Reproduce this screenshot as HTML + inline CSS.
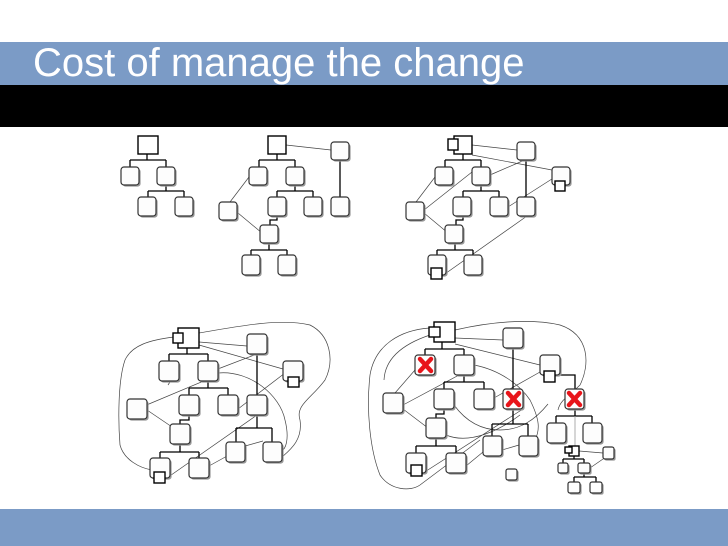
<!DOCTYPE html>
<html><head><meta charset="utf-8"><style>
html,body{margin:0;padding:0;background:#fff;}
body{width:728px;height:546px;position:relative;overflow:hidden;font-family:"Liberation Sans",sans-serif;}
.t{position:absolute;left:0;top:42px;width:728px;height:43px;background:#7b9bc6;}
.t span{position:absolute;left:33px;top:0px;color:#fff;font-size:40px;line-height:43px;white-space:nowrap;}
.k{position:absolute;left:0;top:85px;width:728px;height:42px;background:#000;}
.b{position:absolute;left:0;top:509px;width:728px;height:37px;background:#7b9bc6;}
svg{position:absolute;left:0;top:0;}
.n{fill:#fdfdfd;stroke:#333;stroke-width:1.2;}
.s{fill:#999;transform:translate(0.6px,0.6px);}
.r{fill:#fff;stroke:#000;stroke-width:1.4;}
.l{stroke:#000;stroke-width:1.3;fill:none;}
.d{stroke:#444;stroke-width:0.7;fill:none;}
.x{stroke:#e8141a;stroke-width:4.5;stroke-linecap:round;}
</style></head><body>
<div class="t"><span>Cost of manage the change</span></div>
<div class="k"></div>
<div class="b"></div>
<svg width="728" height="546" viewBox="0 0 728 546">
<path class="l" d="M147 154V160M130 160H166M130 160V167M166 160V167M166 184V191M148 191H184M148 191V197M184 191V197"/>
<rect class="r" x="138" y="136" width="20" height="18"/>
<rect class="s" x="122" y="168" width="18" height="18" rx="3"/><rect class="n" x="121" y="167" width="18" height="18" rx="3"/>
<rect class="s" x="158" y="168" width="18" height="18" rx="3"/><rect class="n" x="157" y="167" width="18" height="18" rx="3"/>
<rect class="s" x="139" y="198" width="18" height="19" rx="3"/><rect class="n" x="138" y="197" width="18" height="19" rx="3"/>
<rect class="s" x="176" y="198" width="18" height="19" rx="3"/><rect class="n" x="175" y="197" width="18" height="19" rx="3"/>

<path class="d" d="M286 145L331 150M249 177L230 202M238 213L262 233"/>
<path class="l" d="M277 154V160M259 160H295M259 160V167M295 160V167M295 184V191M277 191H313M277 191V197M313 191V197M340 160V197M277 216V220H270V225M269 243V250H251M251 250H287M251 250V256M287 250V256"/>
<rect class="r" x="268" y="136" width="18" height="18"/>
<rect class="s" x="332" y="143" width="18" height="18" rx="3"/><rect class="n" x="331" y="142" width="18" height="18" rx="3"/>
<rect class="s" x="250" y="168" width="18" height="18" rx="3"/><rect class="n" x="249" y="167" width="18" height="18" rx="3"/>
<rect class="s" x="287" y="168" width="18" height="18" rx="3"/><rect class="n" x="286" y="167" width="18" height="18" rx="3"/>
<rect class="s" x="269" y="198" width="18" height="19" rx="3"/><rect class="n" x="268" y="197" width="18" height="19" rx="3"/>
<rect class="s" x="305" y="198" width="18" height="19" rx="3"/><rect class="n" x="304" y="197" width="18" height="19" rx="3"/>
<rect class="s" x="332" y="198" width="18" height="19" rx="3"/><rect class="n" x="331" y="197" width="18" height="19" rx="3"/>
<rect class="s" x="220" y="203" width="18" height="18" rx="3"/><rect class="n" x="219" y="202" width="18" height="18" rx="3"/>
<rect class="s" x="261" y="226" width="18" height="18" rx="3"/><rect class="n" x="260" y="225" width="18" height="18" rx="3"/>
<rect class="s" x="243" y="256" width="18" height="20" rx="3"/><rect class="n" x="242" y="255" width="18" height="20" rx="3"/>
<rect class="s" x="279" y="256" width="18" height="20" rx="3"/><rect class="n" x="278" y="255" width="18" height="20" rx="3"/>

<path class="d" d="M472 145L517 150M472 155L552 170M490 175L527 159M424 210L472 172M435 177L416 202M424 213L448 233M508 207L555 177M442 276L527 216"/>
<path class="l" d="M463 154V160M445 160H481M445 160V167M481 160V167M481 184V191M463 191H499M463 191V197M499 191V197M526 160V197M463 216V220H456V225M455 243V250H437M437 250H473M437 250V256M473 250V256"/>
<rect class="r" x="454" y="136" width="18" height="18"/>
<rect class="r" x="448" y="139" width="10" height="11"/>
<rect class="s" x="518" y="143" width="18" height="18" rx="3"/><rect class="n" x="517" y="142" width="18" height="18" rx="3"/>
<rect class="s" x="436" y="168" width="18" height="18" rx="3"/><rect class="n" x="435" y="167" width="18" height="18" rx="3"/>
<rect class="s" x="473" y="168" width="18" height="18" rx="3"/><rect class="n" x="472" y="167" width="18" height="18" rx="3"/>
<rect class="s" x="553" y="168" width="18" height="18" rx="3"/><rect class="n" x="552" y="167" width="18" height="18" rx="3"/>
<rect class="r" x="555" y="181" width="10" height="10"/>
<rect class="s" x="407" y="203" width="18" height="18" rx="3"/><rect class="n" x="406" y="202" width="18" height="18" rx="3"/>
<rect class="s" x="454" y="198" width="18" height="19" rx="3"/><rect class="n" x="453" y="197" width="18" height="19" rx="3"/>
<rect class="s" x="491" y="198" width="18" height="19" rx="3"/><rect class="n" x="490" y="197" width="18" height="19" rx="3"/>
<rect class="s" x="518" y="198" width="18" height="19" rx="3"/><rect class="n" x="517" y="197" width="18" height="19" rx="3"/>
<rect class="s" x="446" y="226" width="18" height="18" rx="3"/><rect class="n" x="445" y="225" width="18" height="18" rx="3"/>
<rect class="s" x="429" y="256" width="18" height="20" rx="3"/><rect class="n" x="428" y="255" width="18" height="20" rx="3"/>
<rect class="r" x="431" y="268" width="11" height="11"/>
<rect class="s" x="465" y="256" width="18" height="20" rx="3"/><rect class="n" x="464" y="255" width="18" height="20" rx="3"/>

<path class="d" d="M174 337C150 340 132 345 125 360C118 380 118 420 120 445C124 460 140 468 152 470"/>
<path class="d" d="M199 333C240 326 280 318 310 325C330 335 335 360 325 380C312 398 295 405 300 420C303 440 290 450 282 457"/>
<path class="d" d="M199 342L247 346M199 345L283 369M218 373C250 370 280 395 285 420C290 440 285 450 282 450M179 368L168 385M137 409L218 375M147 410L178 431M238 409L285 373M257 415L164 480M257 354L210 372M209 466L247 445M227 451L263 441"/>
<path class="l" d="M187 348V354H169M169 354H208M169 354V361M208 354V361M208 381V388H189M189 388H228M189 388V395M228 388V395M257 354V395M189 415V420H180V424M180 444V452H160M160 452H199M160 452V458M199 452V458M257 415V428H236M236 428H272M236 428V442M272 428V442"/>
<rect class="r" x="178" y="328" width="21" height="20"/>
<rect class="r" x="173" y="333" width="10" height="10"/>
<rect class="s" x="248" y="335" width="20" height="20" rx="3"/><rect class="n" x="247" y="334" width="20" height="20" rx="3"/>
<rect class="s" x="160" y="362" width="20" height="20" rx="3"/><rect class="n" x="159" y="361" width="20" height="20" rx="3"/>
<rect class="s" x="199" y="362" width="20" height="20" rx="3"/><rect class="n" x="198" y="361" width="20" height="20" rx="3"/>
<rect class="s" x="284" y="362" width="20" height="20" rx="3"/><rect class="n" x="283" y="361" width="20" height="20" rx="3"/>
<rect class="r" x="288" y="377" width="11" height="10"/>
<rect class="s" x="128" y="400" width="20" height="20" rx="3"/><rect class="n" x="127" y="399" width="20" height="20" rx="3"/>
<rect class="s" x="180" y="396" width="20" height="20" rx="3"/><rect class="n" x="179" y="395" width="20" height="20" rx="3"/>
<rect class="s" x="219" y="396" width="20" height="20" rx="3"/><rect class="n" x="218" y="395" width="20" height="20" rx="3"/>
<rect class="s" x="248" y="396" width="20" height="20" rx="3"/><rect class="n" x="247" y="395" width="20" height="20" rx="3"/>
<rect class="s" x="171" y="425" width="20" height="20" rx="3"/><rect class="n" x="170" y="424" width="20" height="20" rx="3"/>
<rect class="s" x="227" y="443" width="19" height="20" rx="3"/><rect class="n" x="226" y="442" width="19" height="20" rx="3"/>
<rect class="s" x="264" y="443" width="19" height="20" rx="3"/><rect class="n" x="263" y="442" width="19" height="20" rx="3"/>
<rect class="s" x="151" y="459" width="20" height="20" rx="3"/><rect class="n" x="150" y="458" width="20" height="20" rx="3"/>
<rect class="r" x="154" y="472" width="11" height="11"/>
<rect class="s" x="190" y="459" width="20" height="20" rx="3"/><rect class="n" x="189" y="458" width="20" height="20" rx="3"/>

<path class="d" d="M430 328C400 330 375 345 370 375C366 410 370 450 380 475C390 490 410 492 420 485C440 470 460 455 480 440"/>
<path class="d" d="M455 330C490 322 530 318 560 325C590 335 590 365 580 385C570 395 560 400 558 410"/>
<path class="d" d="M430 335C400 345 385 360 384 380"/>
<path class="d" d="M455 338L503 340M455 344L540 365M474 365C500 370 520 385 530 400C540 420 540 430 535 440M415 370L395 393M403 405L474 367M403 409L428 428M494 398L540 372M523 409L420 475M454 405C465 420 480 430 500 430C520 430 535 420 548 404M446 435C470 445 500 430 520 415M466 466L483 452M502 450L519 445M579 451L603 453M590 468L603 459"/>
<path class="l" d="M442 342V349H425M425 349H464M425 349V355M464 349V355M464 375V382H444M444 382H484M444 382V389M484 382V389M513 348V389M444 409V414H436V418M436 438V446H416M416 446H456M416 446V453M456 446V453M513 409V424H492M492 424H528M492 424V436M528 424V436M555 375H575V389M575 409V416H556M556 416H592M556 416V423M592 416V423M574 456V459H563M563 459H584M563 459V463M584 459V463M584 473V477H574M574 477H596M574 477V482M596 477V482"/>
<path d="M575 416V446" stroke="#999" stroke-width="0.8"/>
<rect class="r" x="434" y="322" width="21" height="20"/>
<rect class="r" x="429" y="327" width="11" height="10"/>
<rect class="s" x="504" y="329" width="20" height="20" rx="3"/><rect class="n" x="503" y="328" width="20" height="20" rx="3"/>
<rect class="s" x="416" y="356" width="20" height="20" rx="3"/><rect class="n" x="415" y="355" width="20" height="20" rx="3"/>
<rect class="s" x="455" y="356" width="20" height="20" rx="3"/><rect class="n" x="454" y="355" width="20" height="20" rx="3"/>
<rect class="s" x="541" y="356" width="20" height="20" rx="3"/><rect class="n" x="540" y="355" width="20" height="20" rx="3"/>
<rect class="r" x="544" y="371" width="11" height="11"/>
<rect class="s" x="384" y="394" width="20" height="20" rx="3"/><rect class="n" x="383" y="393" width="20" height="20" rx="3"/>
<rect class="s" x="435" y="390" width="20" height="20" rx="3"/><rect class="n" x="434" y="389" width="20" height="20" rx="3"/>
<rect class="s" x="475" y="390" width="20" height="20" rx="3"/><rect class="n" x="474" y="389" width="20" height="20" rx="3"/>
<rect class="s" x="504" y="390" width="20" height="20" rx="3"/><rect class="n" x="503" y="389" width="20" height="20" rx="3"/>
<rect class="s" x="566" y="390" width="19" height="20" rx="3"/><rect class="n" x="565" y="389" width="19" height="20" rx="3"/>
<rect class="s" x="427" y="419" width="20" height="20" rx="3"/><rect class="n" x="426" y="418" width="20" height="20" rx="3"/>
<rect class="s" x="548" y="424" width="19" height="20" rx="3"/><rect class="n" x="547" y="423" width="19" height="20" rx="3"/>
<rect class="s" x="584" y="424" width="19" height="20" rx="3"/><rect class="n" x="583" y="423" width="19" height="20" rx="3"/>
<rect class="s" x="484" y="437" width="19" height="20" rx="3"/><rect class="n" x="483" y="436" width="19" height="20" rx="3"/>
<rect class="s" x="520" y="437" width="19" height="20" rx="3"/><rect class="n" x="519" y="436" width="19" height="20" rx="3"/>
<rect class="s" x="407" y="454" width="20" height="20" rx="3"/><rect class="n" x="406" y="453" width="20" height="20" rx="3"/>
<rect class="r" x="411" y="465" width="11" height="11"/>
<rect class="s" x="447" y="454" width="20" height="20" rx="3"/><rect class="n" x="446" y="453" width="20" height="20" rx="3"/>
<rect class="r" x="569" y="446" width="10" height="10"/>
<rect class="r" x="565" y="447" width="7" height="6"/>
<rect class="s" x="604" y="448" width="11" height="12" rx="2"/><rect class="n" x="603" y="447" width="11" height="12" rx="2"/>
<rect class="s" x="559" y="464" width="10" height="10" rx="2"/><rect class="n" x="558" y="463" width="10" height="10" rx="2"/>
<rect class="s" x="579" y="464" width="12" height="10" rx="2"/><rect class="n" x="578" y="463" width="12" height="10" rx="2"/>
<rect class="s" x="569" y="483" width="12" height="11" rx="2"/><rect class="n" x="568" y="482" width="12" height="11" rx="2"/>
<rect class="s" x="591" y="483" width="12" height="11" rx="2"/><rect class="n" x="590" y="482" width="12" height="11" rx="2"/>
<rect class="s" x="507" y="470" width="11" height="11" rx="2"/><rect class="n" x="506" y="469" width="11" height="11" rx="2"/>
<path class="x" d="M420 359L431 371M431 359L420 371"/>
<path class="x" d="M508 393L519 405M519 393L508 405"/>
<path class="x" d="M569 393L580 405M580 393L569 405"/>
</svg>
</body></html>
